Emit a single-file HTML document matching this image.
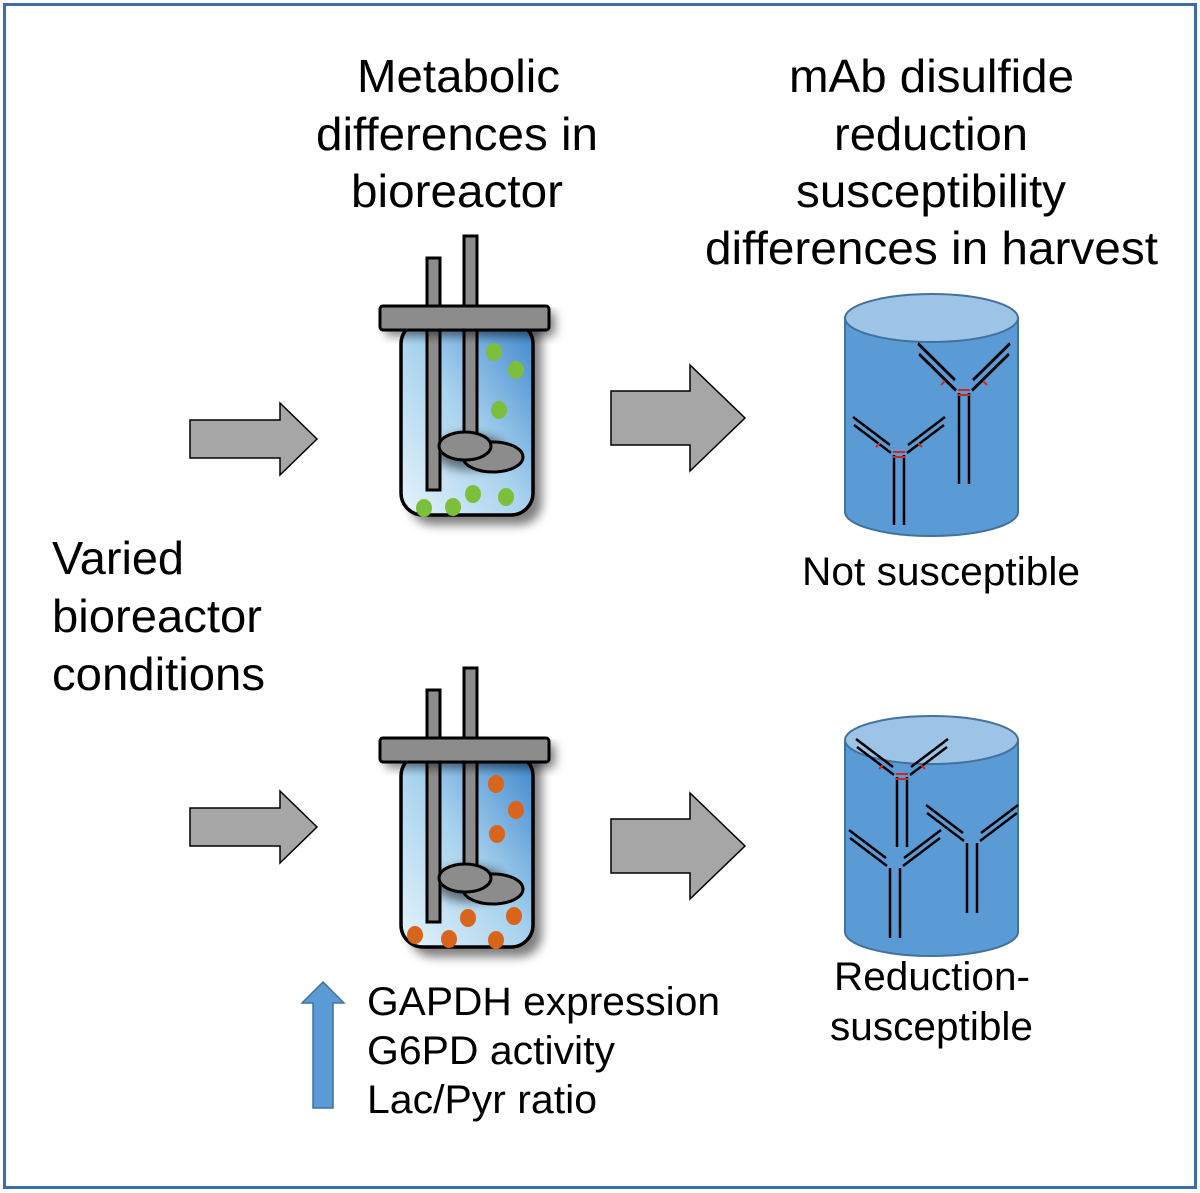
<!DOCTYPE html>
<html><head><style>
html,body{margin:0;padding:0;background:#fff}
svg{display:block}
text{font-family:"Liberation Sans",Arial,sans-serif;fill:#000}
</style></head><body>
<svg width="1200" height="1193" viewBox="0 0 1200 1193" xmlns="http://www.w3.org/2000/svg">
<defs>
<linearGradient id="liq" x1="0" y1="1" x2="1" y2="0">
<stop offset="0" stop-color="#e6f4fb"/><stop offset="0.5" stop-color="#a8d2ee"/><stop offset="1" stop-color="#3d86cc"/>
</linearGradient>
<filter id="sh" x="-20%" y="-20%" width="150%" height="150%"><feGaussianBlur stdDeviation="5"/></filter>
<g id="reactor">
  <rect x="410" y="313" width="132" height="212" rx="22" fill="#000" opacity="0.5" filter="url(#sh)"/>
  <rect x="401" y="322" width="132" height="193" rx="22" fill="url(#liq)" stroke="#000" stroke-width="3.5"/>
  <ellipse cx="470" cy="452" rx="36" ry="18" fill="#000" opacity="0.5" filter="url(#sh)"/>
  <rect x="427" y="258" width="13" height="232" fill="#8c8c8c" stroke="#000" stroke-width="3"/>
  <rect x="464" y="236" width="13" height="210" fill="#8c8c8c" stroke="#000" stroke-width="3"/>
  <ellipse cx="493" cy="457" rx="30" ry="15" fill="#8c8c8c" stroke="#000" stroke-width="3"/>
  <ellipse cx="465" cy="446" rx="26" ry="14" fill="#8c8c8c" stroke="#000" stroke-width="3"/>
  <rect x="386" y="312" width="169" height="24" fill="#000" opacity="0.5" filter="url(#sh)"/>
  <rect x="380" y="306" width="169" height="24" rx="3" fill="#8c8c8c" stroke="#000" stroke-width="3"/>
</g>
<g id="ab" fill="none" stroke="#000" stroke-width="2.5">
  <line x1="-5" y1="0" x2="-5" y2="70"/><line x1="5" y1="0" x2="5" y2="70"/>
  <line x1="-8" y1="-2" x2="-45" y2="-30"/><line x1="-9" y1="-10" x2="-46" y2="-38"/>
  <line x1="8" y1="-2" x2="45" y2="-30"/><line x1="9" y1="-10" x2="46" y2="-38"/>
</g>
<g id="ss" fill="none" stroke="#d0281e" stroke-width="2">
  <line x1="-6" y1="-3" x2="6" y2="-3"/><line x1="-6" y1="2" x2="6" y2="2"/>
  <line x1="-19" y1="-12" x2="-23" y2="-8"/><line x1="19" y1="-12" x2="23" y2="-8"/>
</g>
</defs>

<rect x="4.5" y="4.5" width="1191" height="1183" fill="#fff" stroke="#3a6ea5" stroke-width="3"/>

<g font-size="46" lengthAdjust="spacingAndGlyphs">
<text x="357" y="92" textLength="203" lengthAdjust="spacingAndGlyphs">Metabolic</text>
<text x="316" y="150" textLength="282" lengthAdjust="spacingAndGlyphs">differences in</text>
<text x="351" y="207" textLength="212" lengthAdjust="spacingAndGlyphs">bioreactor</text>
<text x="789" y="92" textLength="285" lengthAdjust="spacingAndGlyphs">mAb disulfide</text>
<text x="834" y="150" textLength="194" lengthAdjust="spacingAndGlyphs">reduction</text>
<text x="796" y="207" textLength="270" lengthAdjust="spacingAndGlyphs">susceptibility</text>
<text x="705" y="264" textLength="453" lengthAdjust="spacingAndGlyphs">differences in harvest</text>
<text x="52" y="574" textLength="132" lengthAdjust="spacingAndGlyphs">Varied</text>
<text x="52" y="632" textLength="210" lengthAdjust="spacingAndGlyphs">bioreactor</text>
<text x="52" y="690" textLength="213" lengthAdjust="spacingAndGlyphs">conditions</text>
</g>

<!-- small arrows -->
<polygon points="190,420 280,420 280,403 317,439 280,475 280,458 190,458" fill="#a6a6a6" stroke="#000" stroke-width="1.5"/>
<polygon points="190,808 280,808 280,791 317,827 280,863 280,846 190,846" fill="#a6a6a6" stroke="#000" stroke-width="1.5"/>
<!-- big arrows -->
<polygon points="611,391 690,391 690,365 745,418 690,471 690,445 611,445" fill="#a6a6a6" stroke="#000" stroke-width="1.5"/>
<polygon points="611,819 690,819 690,793 745,846 690,899 690,873 611,873" fill="#a6a6a6" stroke="#000" stroke-width="1.5"/>

<!-- reactors -->
<use href="#reactor"/>
<g fill="#7cbf3a">
<ellipse cx="494" cy="352" rx="8" ry="9"/><ellipse cx="516" cy="370" rx="8" ry="9"/><ellipse cx="499" cy="410" rx="8" ry="9"/>
<ellipse cx="424" cy="508" rx="8" ry="9"/><ellipse cx="453" cy="507" rx="8" ry="9"/><ellipse cx="473" cy="494" rx="8" ry="9"/><ellipse cx="506" cy="497" rx="8" ry="9"/>
</g>
<use href="#reactor" transform="translate(0,432)"/>
<g fill="#d9651c">
<ellipse cx="496" cy="784" rx="8" ry="9"/><ellipse cx="516" cy="810" rx="8" ry="9"/><ellipse cx="497" cy="834" rx="8" ry="9"/>
<ellipse cx="415" cy="935" rx="8" ry="9"/><ellipse cx="449" cy="939" rx="8" ry="9"/><ellipse cx="468" cy="918" rx="8" ry="9"/><ellipse cx="496" cy="940" rx="8" ry="9"/><ellipse cx="514" cy="916" rx="8" ry="9"/>
</g>

<!-- cylinders -->
<path d="M845,318 V512 A86.5,24 0 0 0 1018,512 V318" fill="#5b9bd5" stroke="#41719c" stroke-width="2"/>
<ellipse cx="931.5" cy="318" rx="86.5" ry="24" fill="#9dc3e6" stroke="#41719c" stroke-width="2"/>
<path d="M845,740 V932 A86.5,24 0 0 0 1018,932 V740" fill="#5b9bd5" stroke="#41719c" stroke-width="2"/>
<ellipse cx="931.5" cy="740" rx="86.5" ry="24" fill="#9dc3e6" stroke="#41719c" stroke-width="2"/>

<!-- antibodies -->
<use href="#ab" transform="translate(899,455)"/><use href="#ss" transform="translate(899,455)"/>
<use href="#ab" transform="translate(964,393) scale(1,1.3)"/><use href="#ss" transform="translate(964,393)"/>
<use href="#ab" transform="translate(902,777)"/><use href="#ss" transform="translate(902,777)"/>
<use href="#ab" transform="translate(895,868) scale(1,1.0)"/>
<use href="#ab" transform="translate(972,843) scale(1,1.0)"/>

<g font-size="40">
<text x="802" y="585" textLength="278" lengthAdjust="spacingAndGlyphs">Not susceptible</text>
<text x="834" y="990" textLength="196" lengthAdjust="spacingAndGlyphs">Reduction-</text>
<text x="830" y="1040" textLength="203" lengthAdjust="spacingAndGlyphs">susceptible</text>
<text x="367" y="1015" textLength="353" lengthAdjust="spacingAndGlyphs">GAPDH expression</text>
<text x="367" y="1064" textLength="248" lengthAdjust="spacingAndGlyphs">G6PD activity</text>
<text x="367" y="1113" textLength="230" lengthAdjust="spacingAndGlyphs">Lac/Pyr ratio</text>
</g>

<polygon points="323,982 344,1003 333,1003 333,1108 313,1108 313,1003 302,1003" fill="#5b9bd5" stroke="#41719c" stroke-width="1.5"/>
</svg>
</body></html>
